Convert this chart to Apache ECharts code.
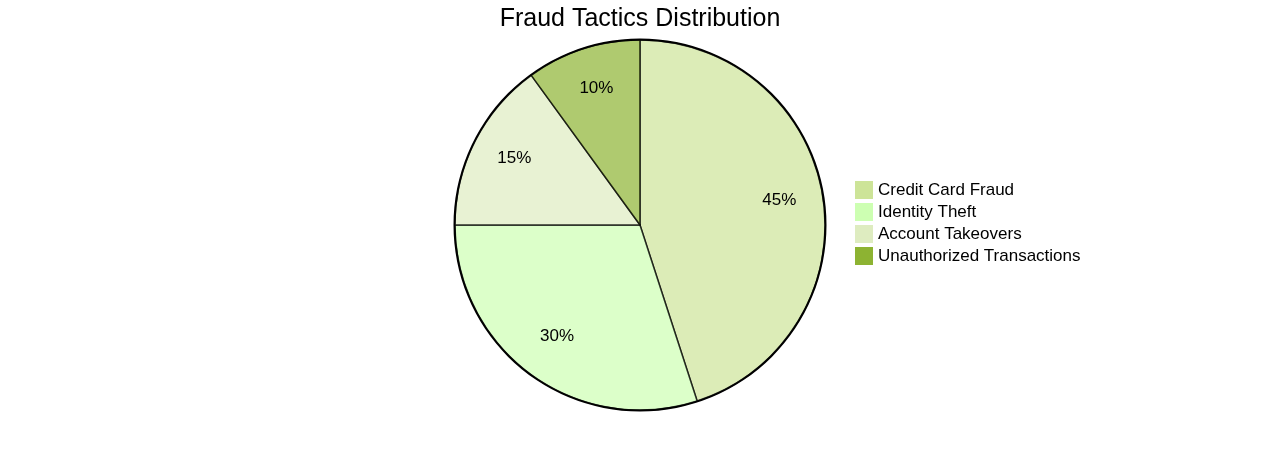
<!DOCTYPE html>
<html>
<head>
<meta charset="utf-8">
<script src="https://cdn.jsdelivr.net/npm/echarts@6/dist/echarts.min.js"></script>
<style>
  html, body { margin: 0; padding: 0; background: #fff; }
  #chart { width: 1280px; height: 450px; }
</style>
</head>
<body>
<div id="chart"></div>
<script>
var categories = ['Credit Card Fraud', 'Identity Theft', 'Account Takeovers', 'Unauthorized Transactions'];
var shares = [45, 30, 15, 10];
var colors = ['#cde498', '#cdffb2', '#deecc0', '#8db332'];

var chart = echarts.init(document.getElementById('chart'));

var sliceData = [];
var labelData = [];
var legendData = [];
for (var i = 0; i < categories.length; i++) {
    sliceData.push({
        name: categories[i],
        value: shares[i],
        itemStyle: { color: colors[i], opacity: 0.7 }
    });
    labelData.push({ name: categories[i], value: shares[i] });
    legendData.push({
        name: categories[i],
        itemStyle: { color: colors[i], opacity: 1, borderWidth: 0 }
    });
}

var font = '"Liberation Sans", Arial, sans-serif';

option = {
    animation: false,
    title: {
        text: 'Fraud Tactics Distribution',
        left: 'center',
        top: 2,
        textStyle: { fontFamily: font, fontSize: 25, fontWeight: 'normal', color: '#000' }
    },
    legend: {
        orient: 'vertical',
        left: 850,
        top: 176,
        itemWidth: 18,
        itemHeight: 18,
        itemGap: 4,
        icon: 'rect',
        selectedMode: false,
        itemStyle: { borderWidth: 0 },
        textStyle: { fontFamily: font, fontSize: 17, color: '#000', lineHeight: 18, height: 18 },
        data: legendData
    },
    series: [{
        type: 'pie',
        center: [640, 225],
        radius: [0, 185],
        startAngle: 90,
        clockwise: true,
        silent: true,
        label: { show: false },
        labelLine: { show: false },
        itemStyle: { borderColor: '#000', borderWidth: 1.5 },
        data: sliceData
    }, {
        // outer ring stroke
        type: 'pie',
        center: [640, 225],
        radius: [184.5, 186.5],
        silent: true,
        label: { show: false },
        itemStyle: { color: '#000', borderWidth: 0 },
        data: [{ name: 'ring', value: 1 }]
    }, {
        // transparent overlay that puts labels at 3/4 radius
        type: 'pie',
        center: [640, 225],
        radius: [91, 185],
        startAngle: 90,
        clockwise: true,
        silent: true,
        itemStyle: { color: 'rgba(0,0,0,0)', borderWidth: 0 },
        label: {
            show: true,
            position: 'inside',
            formatter: '{t|{d}%}\n{s| }',
            rich: {
                t: { fontFamily: font, fontSize: 17, color: '#000', lineHeight: 20 },
                s: { fontSize: 4, lineHeight: 6 }
            }
        },
        labelLine: { show: false },
        data: labelData
    }]
};
chart.setOption(option);
</script>
</body>
</html>
